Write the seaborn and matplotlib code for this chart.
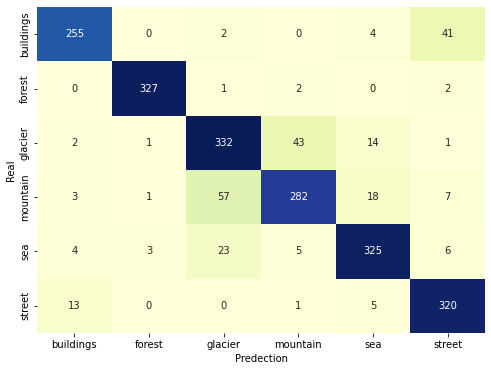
import matplotlib
matplotlib.use("Agg")
import matplotlib.pyplot as plt
import numpy as np
import pandas as pd
import seaborn as sns

classes = ["buildings", "forest", "glacier", "mountain", "sea", "street"]

row_buildings = [255, 0, 2, 0, 4, 41]
row_forest = [0, 327, 1, 2, 0, 2]
row_glacier = [2, 1, 332, 43, 14, 1]
row_mountain = [3, 1, 57, 282, 18, 7]
row_sea = [4, 3, 23, 5, 325, 6]
row_street = [13, 0, 0, 1, 5, 320]

cm = pd.DataFrame([row_buildings, row_forest, row_glacier, row_mountain,
                   row_sea, row_street], index=classes, columns=classes)

fig = plt.figure(figsize=(491 / 72, 371 / 72), dpi=72)
ax = fig.add_axes([37 / 491, 1 - 333 / 371, 448 / 491, 326 / 371])
sns.heatmap(cm, annot=True, fmt="d", cmap="YlGnBu", cbar=False, ax=ax)
ax.set_xlabel("Predection")
ax.set_ylabel("Real")
fig.savefig("out.png", dpi=72)
